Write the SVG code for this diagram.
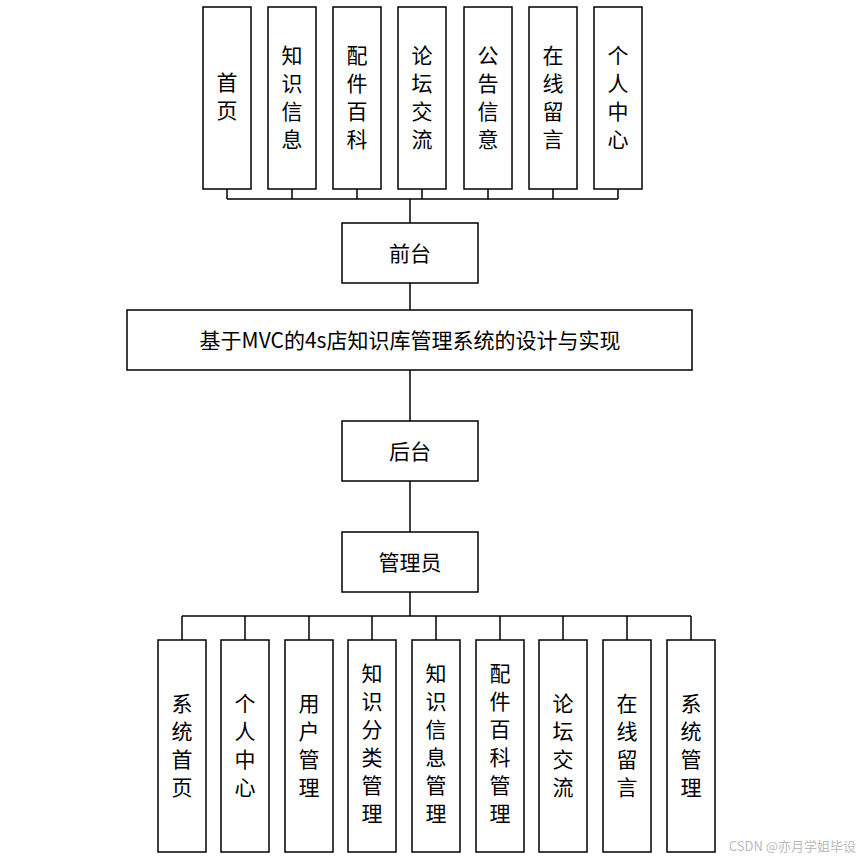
<svg xmlns="http://www.w3.org/2000/svg" width="861" height="861" viewBox="0 0 861 861">
<style>
rect{fill:#fff;stroke:#000;stroke-width:1.5}
line{stroke:#000;stroke-width:1.5}
text{font-family:"Noto Sans CJK SC","Liberation Sans",sans-serif;font-size:21px;fill:#000;text-anchor:middle}
.wm{font-size:13px;fill:#bbb;text-anchor:end}
</style>
<rect width="861" height="861" style="fill:#fff;stroke:none"/>
<g id="connectors">
<line x1="227" y1="189" x2="227" y2="199"/><line x1="292" y1="189" x2="292" y2="199"/><line x1="357" y1="189" x2="357" y2="199"/><line x1="422" y1="189" x2="422" y2="199"/><line x1="488" y1="189" x2="488" y2="199"/><line x1="553" y1="189" x2="553" y2="199"/><line x1="618" y1="189" x2="618" y2="199"/>
<line x1="227" y1="199" x2="618" y2="199"/>
<line x1="410" y1="199" x2="410" y2="223"/>
<line x1="410" y1="283" x2="410" y2="310"/>
<line x1="410" y1="370" x2="410" y2="421"/>
<line x1="410" y1="481" x2="410" y2="532"/>
<line x1="410" y1="592" x2="410" y2="616"/>
<line x1="182" y1="616" x2="691" y2="616"/>
<line x1="182" y1="616" x2="182" y2="640"/><line x1="245" y1="616" x2="245" y2="640"/><line x1="309" y1="616" x2="309" y2="640"/><line x1="372" y1="616" x2="372" y2="640"/><line x1="436" y1="616" x2="436" y2="640"/><line x1="500" y1="616" x2="500" y2="640"/><line x1="563" y1="616" x2="563" y2="640"/><line x1="627" y1="616" x2="627" y2="640"/><line x1="691" y1="616" x2="691" y2="640"/>
</g>
<g id="t1"><rect x="203" y="7" width="48" height="182"/><text x="227" y="90">首</text><text x="227" y="118">页</text></g>
<g id="t2"><rect x="268" y="7" width="48" height="182"/><text x="292" y="63">知</text><text x="292" y="91">识</text><text x="292" y="119">信</text><text x="292" y="147">息</text></g>
<g id="t3"><rect x="333" y="7" width="48" height="182"/><text x="357" y="63">配</text><text x="357" y="91">件</text><text x="357" y="119">百</text><text x="357" y="147">科</text></g>
<g id="t4"><rect x="398" y="7" width="48" height="182"/><text x="422" y="63">论</text><text x="422" y="91">坛</text><text x="422" y="119">交</text><text x="422" y="147">流</text></g>
<g id="t5"><rect x="464" y="7" width="48" height="182"/><text x="488" y="63">公</text><text x="488" y="91">告</text><text x="488" y="119">信</text><text x="488" y="147">意</text></g>
<g id="t6"><rect x="529" y="7" width="48" height="182"/><text x="553" y="63">在</text><text x="553" y="91">线</text><text x="553" y="119">留</text><text x="553" y="147">言</text></g>
<g id="t7"><rect x="594" y="7" width="48" height="182"/><text x="618" y="63">个</text><text x="618" y="91">人</text><text x="618" y="119">中</text><text x="618" y="147">心</text></g>
<g id="front"><rect x="342" y="223" width="136" height="60"/><text x="410" y="261">前台</text></g>
<g id="main"><rect x="127" y="310" width="565" height="60"/><text x="410" y="348">基于MVC的4s店知识库管理系统的设计与实现</text></g>
<g id="back"><rect x="342" y="421" width="136" height="60"/><text x="410" y="459">后台</text></g>
<g id="admin"><rect x="342" y="532" width="136" height="60"/><text x="410" y="570">管理员</text></g>
<g id="b1"><rect x="158" y="640" width="48" height="212"/><text x="182" y="711">系</text><text x="182" y="739">统</text><text x="182" y="767">首</text><text x="182" y="795">页</text></g>
<g id="b2"><rect x="221" y="640" width="48" height="212"/><text x="245" y="711">个</text><text x="245" y="739">人</text><text x="245" y="767">中</text><text x="245" y="795">心</text></g>
<g id="b3"><rect x="285" y="640" width="48" height="212"/><text x="309" y="711">用</text><text x="309" y="739">户</text><text x="309" y="767">管</text><text x="309" y="795">理</text></g>
<g id="b4"><rect x="348" y="640" width="48" height="212"/><text x="372" y="681">知</text><text x="372" y="709">识</text><text x="372" y="737">分</text><text x="372" y="765">类</text><text x="372" y="793">管</text><text x="372" y="821">理</text></g>
<g id="b5"><rect x="412" y="640" width="48" height="212"/><text x="436" y="681">知</text><text x="436" y="709">识</text><text x="436" y="737">信</text><text x="436" y="765">息</text><text x="436" y="793">管</text><text x="436" y="821">理</text></g>
<g id="b6"><rect x="476" y="640" width="48" height="212"/><text x="500" y="681">配</text><text x="500" y="709">件</text><text x="500" y="737">百</text><text x="500" y="765">科</text><text x="500" y="793">管</text><text x="500" y="821">理</text></g>
<g id="b7"><rect x="539" y="640" width="48" height="212"/><text x="563" y="711">论</text><text x="563" y="739">坛</text><text x="563" y="767">交</text><text x="563" y="795">流</text></g>
<g id="b8"><rect x="603" y="640" width="48" height="212"/><text x="627" y="711">在</text><text x="627" y="739">线</text><text x="627" y="767">留</text><text x="627" y="795">言</text></g>
<g id="b9"><rect x="667" y="640" width="48" height="212"/><text x="691" y="711">系</text><text x="691" y="739">统</text><text x="691" y="767">管</text><text x="691" y="795">理</text></g>
<text class="wm" x="856" y="851">CSDN @亦月学姐毕设</text>
</svg>
